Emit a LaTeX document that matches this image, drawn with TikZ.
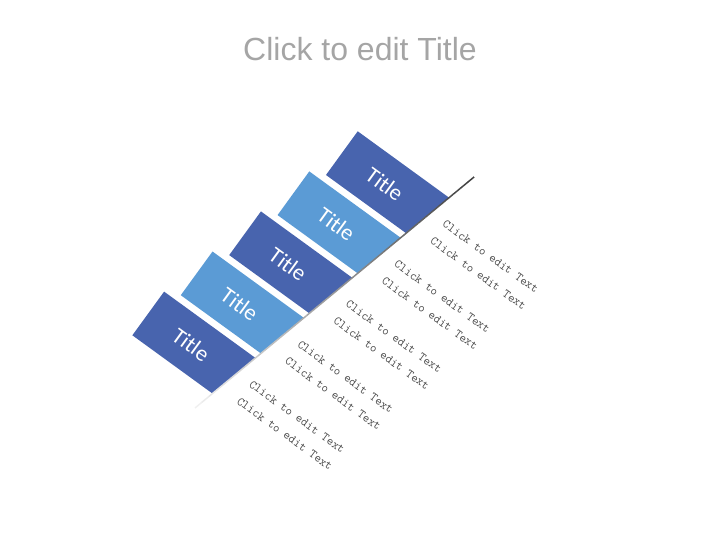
\documentclass[tikz,border=0pt]{standalone}
\usepackage{fontspec}
\setmainfont{Liberation Sans}
\newfontfamily\carlito{Carlito}
\usetikzlibrary{calc}
\definecolor{dkblue}{HTML}{4864AE}
\definecolor{ltblue}{HTML}{5B9BD5}
\definecolor{titlegray}{HTML}{A5A5A5}
\definecolor{txtgray}{HTML}{404040}
\definecolor{itemgray}{HTML}{474747}
\begin{document}
\begin{tikzpicture}[x=1pt,y=1pt,
  boxtitle/.style={text=white,font=\carlito\fontsize{22.5}{26}\selectfont,inner sep=0pt},
  itemtext/.style={text=itemgray,font=\ttfamily\fontsize{12.4}{21}\selectfont,anchor=north west,align=left,inner sep=0pt}]
\useasboundingbox (0,0) rectangle (721,-540);
\node[text=titlegray,font=\fontsize{32}{38}\selectfont] (title) at (360,-49) {Click to edit Title};
\begin{scope}[shift={(195,-408)},rotate=-36,transform shape]
  % boxes
  \fill[dkblue] (-31.0,265.5) -- (68.07,265.5) -- (81.92,319.5) -- (-31.0,319.5) -- cycle;
  \fill[ltblue] (-46.6,204.6) -- (52.46,204.6) -- (66.31,258.6) -- (-46.6,258.6) -- cycle;
  \fill[dkblue] (-62.2,143.8) -- (36.87,143.8) -- (50.72,197.8) -- (-62.2,197.8) -- cycle;
  \fill[ltblue] (-77.8,82.9) -- (21.26,82.9) -- (35.10,136.9) -- (-77.8,136.9) -- cycle;
  \fill[dkblue] (-93.4,22) -- (5.64,22) -- (19.49,76) -- (-93.4,76) -- cycle;
  \node[boxtitle] (t1) at (22.0,292.5) {Title};
  \node[boxtitle] (t2) at (6.38,231.6) {Title};
  \node[boxtitle] (t3) at (-9.21,170.8) {Title};
  \node[boxtitle] (t4) at (-24.82,109.9) {Title};
  \node[boxtitle] (t5) at (-40.44,49) {Title};
  % gradient line
  \coordinate (LA) at (0,0);
  \coordinate (LB) at (90,351);
  \foreach \i in {0,...,39}{
    \pgfmathsetmacro\a{\i/40}
    \pgfmathsetmacro\b{(\i+1)/40}
    \pgfmathsetmacro\p{8+92*\i/39}
    \draw[line width=1.5pt,color=txtgray!\p!white] ($(LA)!\a!(LB)$) -- ($(LA)!\b!(LB)$);
  }
  % texts
  \node[itemtext] (x1) at (92.5,300.5) {Click to edit Text\\Click to edit Text};
  \node[itemtext] (x2) at (76.9,239.6) {Click to edit Text\\Click to edit Text};
  \node[itemtext] (x3) at (61.3,178.8) {Click to edit Text\\Click to edit Text};
  \node[itemtext] (x4) at (45.7,117.9) {Click to edit Text\\Click to edit Text};
  \node[itemtext] (x5) at (30.1,57.0) {Click to edit Text\\Click to edit Text};
\end{scope}
\end{tikzpicture}
\end{document}
